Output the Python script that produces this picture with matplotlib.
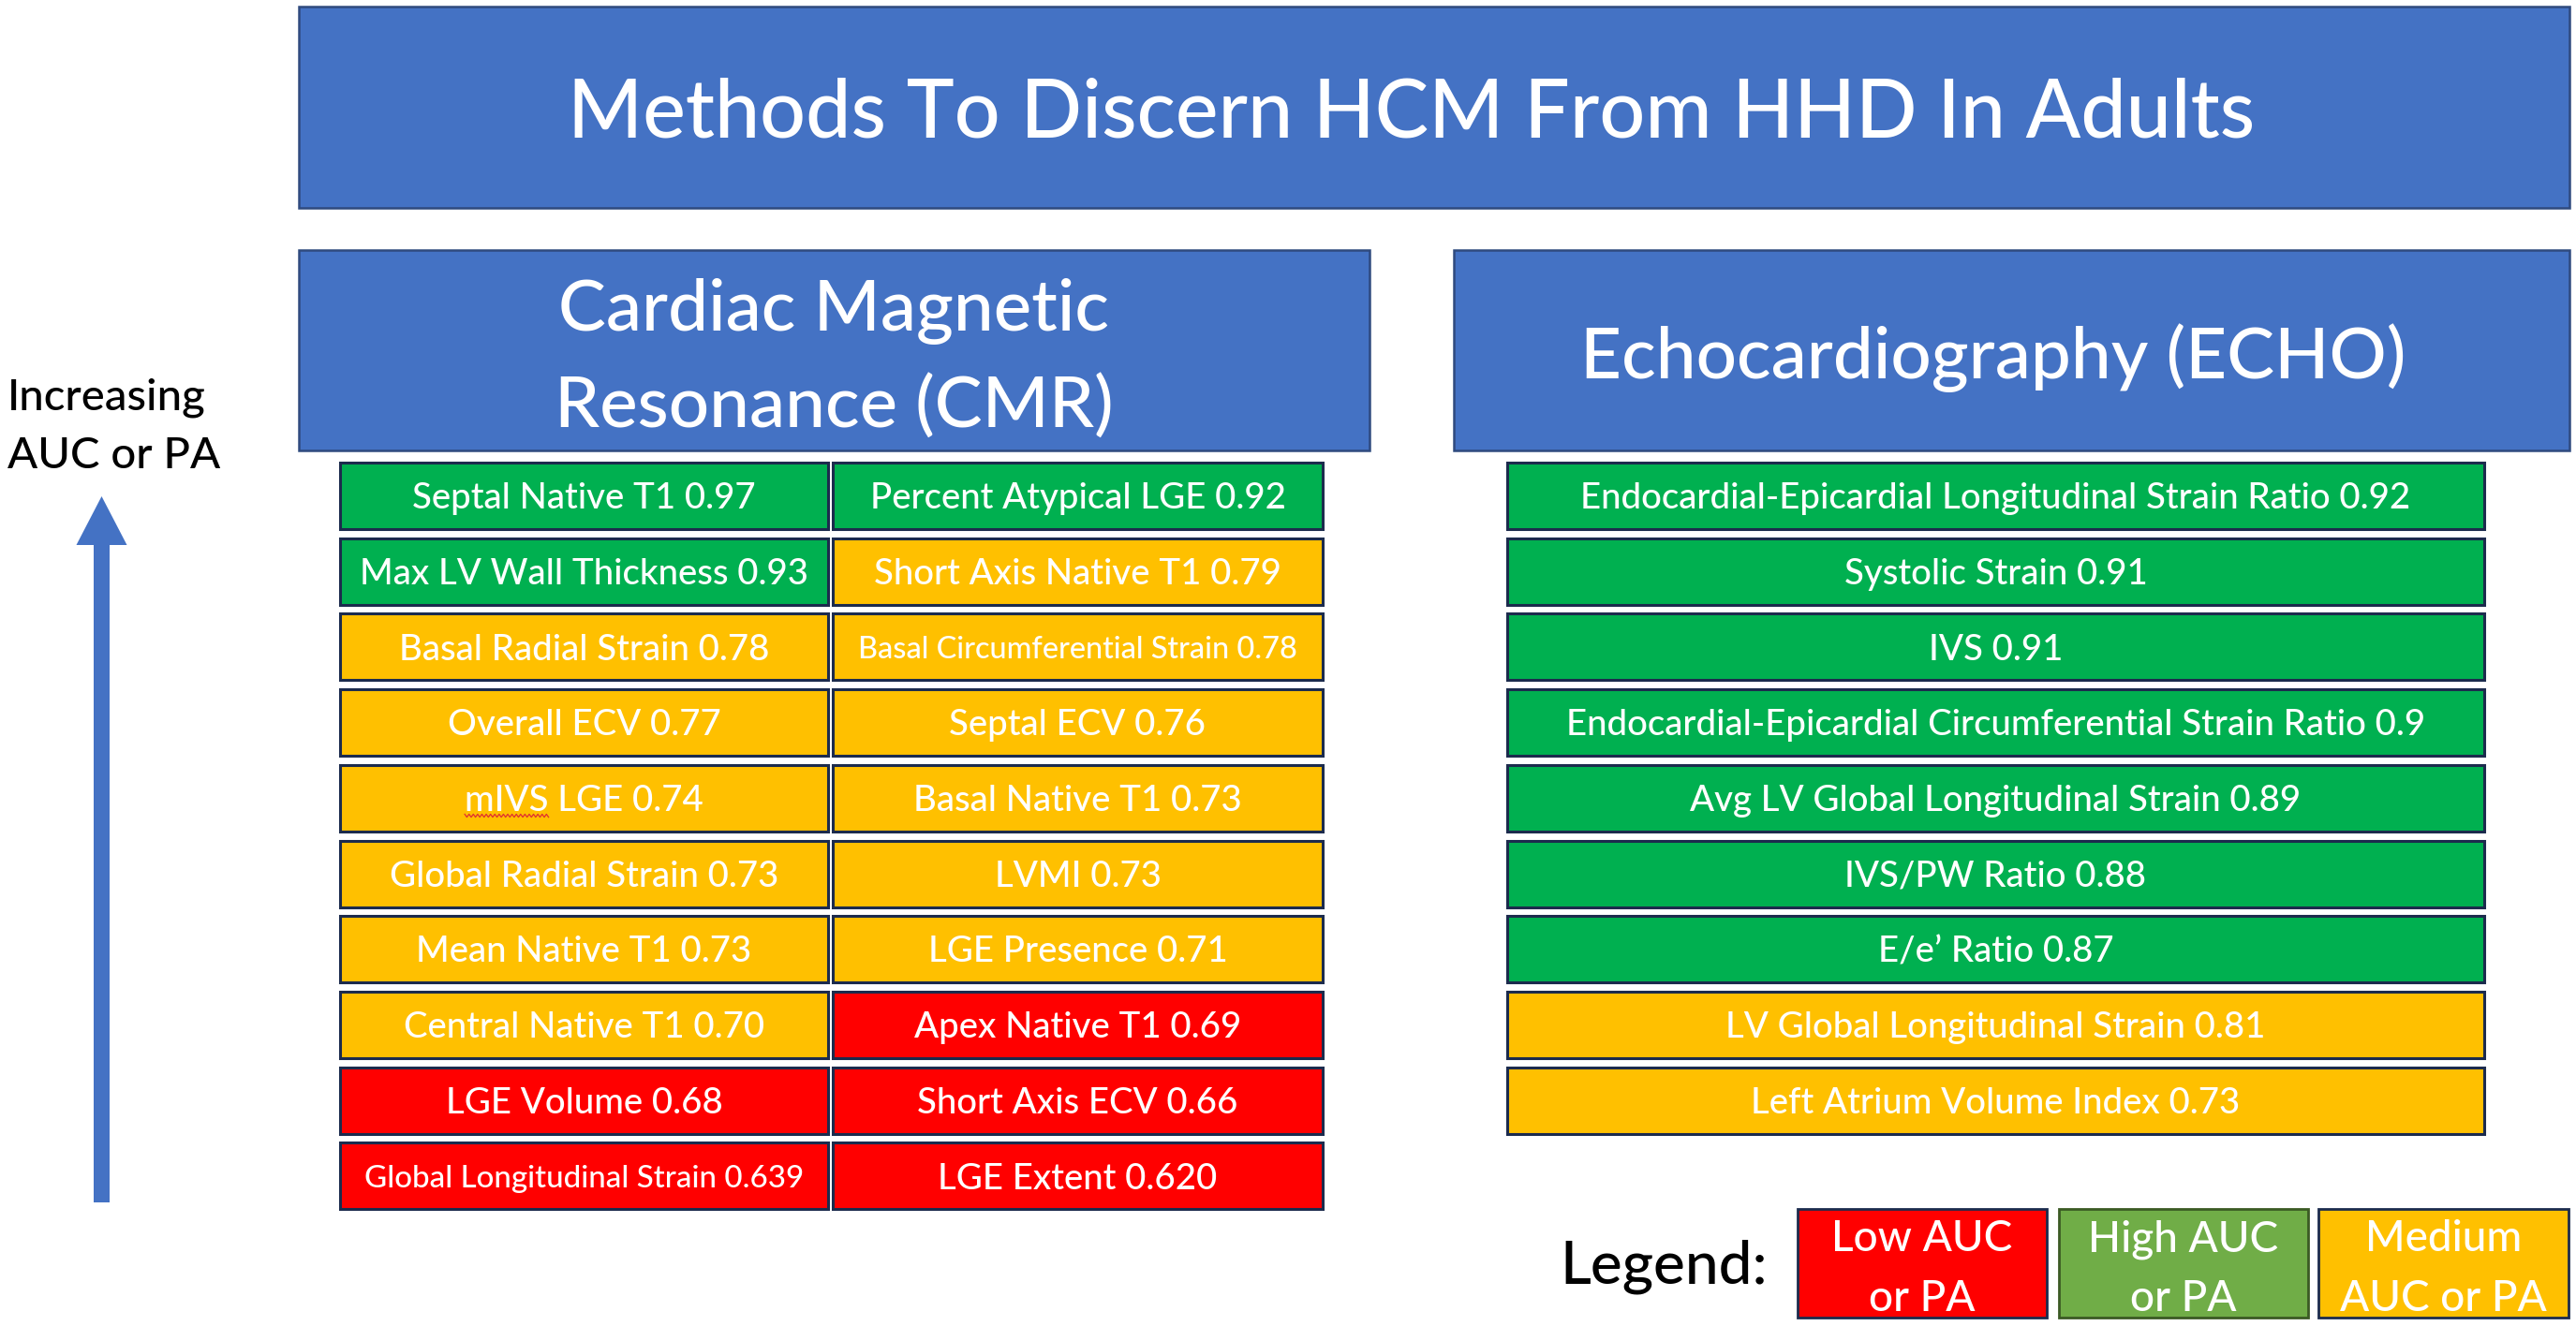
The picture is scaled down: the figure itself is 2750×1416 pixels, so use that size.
import matplotlib
matplotlib.use('Agg')
import matplotlib.pyplot as plt
from matplotlib.patches import Rectangle, FancyArrow
import numpy as np

plt.rcParams['font.family'] = ['Lato', 'DejaVu Sans']
plt.rcParams['font.weight'] = 'medium'

# ---------------- data ----------------
title_text = "Methods To Discern HCM From HHD In Adults"
cmr_header = ["Cardiac Magnetic", "Resonance (CMR)"]
echo_header = "Echocardiography (ECHO)"
axis_label = ["Increasing", "AUC or PA"]

cmr_left_names = ["Septal Native T1", "Max LV Wall Thickness", "Basal Radial Strain",
                  "Overall ECV", "mIVS LGE", "Global Radial Strain", "Mean Native T1",
                  "Central Native T1", "LGE Volume", "Global Longitudinal Strain"]
cmr_left_values = ["0.97", "0.93", "0.78", "0.77", "0.74", "0.73", "0.73", "0.70", "0.68", "0.639"]
cmr_left_levels = ["high", "high", "medium", "medium", "medium", "medium", "medium",
                   "medium", "low", "low"]

cmr_right_names = ["Percent Atypical LGE", "Short Axis Native T1", "Basal Circumferential Strain",
                   "Septal ECV", "Basal Native T1", "LVMI", "LGE Presence", "Apex Native T1",
                   "Short Axis ECV", "LGE Extent"]
cmr_right_values = ["0.92", "0.79", "0.78", "0.76", "0.73", "0.73", "0.71", "0.69", "0.66", "0.620"]
cmr_right_levels = ["high", "medium", "medium", "medium", "medium", "medium", "medium",
                    "low", "low", "low"]

echo_names = ["Endocardial-Epicardial Longitudinal Strain Ratio", "Systolic Strain", "IVS",
              "Endocardial-Epicardial Circumferential Strain Ratio",
              "Avg LV Global Longitudinal Strain", "IVS/PW Ratio", "E/e\u2019 Ratio",
              "LV Global Longitudinal Strain", "Left Atrium Volume Index"]
echo_values = ["0.92", "0.91", "0.91", "0.9", "0.89", "0.88", "0.87", "0.81", "0.73"]
echo_levels = ["high", "high", "high", "high", "high", "high", "high", "medium", "medium"]

legend_title = "Legend:"
legend_levels = ["low", "high", "medium"]
legend_labels = [["Low AUC", "or PA"], ["High AUC", "or PA"], ["Medium", "AUC or PA"]]

# ---------------- style ----------------
level_colors = {"high": "#00B050", "medium": "#FFC000", "low": "#FF0000"}
legend_colors = {"high": "#70AD47", "medium": "#FFC000", "low": "#FF0000"}
legend_edges = {"high": "#3B5A24", "medium": "#1C2B4D", "low": "#1C2B4D"}
header_blue = "#4472C4"
header_edge = "#2F4A7E"
cell_edge = "#1C2B4D"
CAP = 0.7165  # Lato cap height / em

W, H = 2750, 1416
DPI = 100
fig = plt.figure(figsize=(W / DPI, H / DPI), dpi=DPI)
ax = fig.add_axes([0, 0, 1, 1])
ax.set_xlim(0, W)
ax.set_ylim(H, 0)
ax.axis('off')
renderer = fig.canvas.get_renderer()


def px(pt):
    return pt * DPI / 72.0


def cap_text(x, cy, s, size, color="white", ha="center", **kw):
    """Place text so that its capital letters are vertically centred on cy."""
    base = cy + CAP * px(size) / 2.0
    return ax.text(x, base, s, fontsize=size, color=color, ha=ha, va="baseline", **kw)


def text_width(s, size):
    t = ax.text(0, 0, s, fontsize=size)
    w = t.get_window_extent(renderer).width
    t.remove()
    return w


def box(x0, y0, x1, y1, fc, ec, lw):
    ax.add_patch(Rectangle((x0, y0), x1 - x0, y1 - y0, facecolor=fc, edgecolor=ec,
                           linewidth=lw, joinstyle="miter"))


# ---------------- title & headers ----------------
box(319, 7, 2743, 222, header_blue, header_edge, 1.8)
cap_text((319 + 2743) / 2 - 24, 116, title_text, 62)

box(319, 267, 1462, 481, header_blue, header_edge, 1.8)
cap_text((319 + 1462) / 2, 326, cmr_header[0], 55)
cap_text((319 + 1462) / 2, 429, cmr_header[1], 55)

box(1552, 267, 2743, 481, header_blue, header_edge, 1.8)
cap_text((1552 + 2743) / 2 - 20, 377, echo_header, 55)

# ---------------- cells ----------------
row_top0 = 494
row_pitch = 80.7
row_h = 71
CELL_FS = 27.6


def draw_column(x0, x1, names, values, levels, underline_first_word=None):
    cw = x1 - x0
    for i, (n, v, lv) in enumerate(zip(names, values, levels)):
        y0 = row_top0 + i * row_pitch
        box(x0, y0, x1, y0 + row_h, level_colors[lv], cell_edge, 2.2)
        s = f"{n} {v}"
        fs = CELL_FS
        w = text_width(s, fs)
        if w > cw * 0.93:
            fs = fs * (cw * 0.9) / w
        cy = y0 + row_h / 2
        cap_text((x0 + x1) / 2, cy, s, fs)
        if underline_first_word is not None and n.startswith(underline_first_word):
            wt = text_width(s, fs)
            ww = text_width(underline_first_word, fs)
            xs = (x0 + x1) / 2 - wt / 2
            xx = np.linspace(xs, xs + ww, 40)
            yy = cy + CAP * px(fs) / 2 + 5 + 1.6 * np.where(np.arange(40) % 2 == 0, -1, 1)
            ax.plot(xx, yy, color="#E03030", lw=0.9)


draw_column(363, 884, cmr_left_names, cmr_left_values, cmr_left_levels, underline_first_word="mIVS")
draw_column(889, 1412, cmr_right_names, cmr_right_values, cmr_right_levels)
draw_column(1609, 2652, echo_names, echo_values, echo_levels)

# ---------------- arrow & axis label ----------------
ax.add_patch(FancyArrow(108.5, 1284, 0, 530 - 1284, width=17, head_width=54,
                        head_length=52, length_includes_head=True,
                        facecolor=header_blue, edgecolor="none"))
ax.text(8, 437, axis_label[0], fontsize=34, color="black", ha="left", va="baseline")
ax.text(8, 500, axis_label[1], fontsize=34, color="black", ha="left", va="baseline")

# ---------------- legend ----------------
cap_text(1665, 1348, legend_title, 46, color="black", ha="left")
leg_x = [(1919, 2185), (2198, 2464), (2475, 2742)]
for (lx0, lx1), lv, lines in zip(leg_x, legend_levels, legend_labels):
    box(lx0, 1291, lx1, 1407, legend_colors[lv], legend_edges[lv], 2.0)
    cap_text((lx0 + lx1) / 2, 1320, lines[0], 33)
    cap_text((lx0 + lx1) / 2, 1384, lines[1], 33)

fig.savefig("out.png", dpi=DPI, facecolor="white")
